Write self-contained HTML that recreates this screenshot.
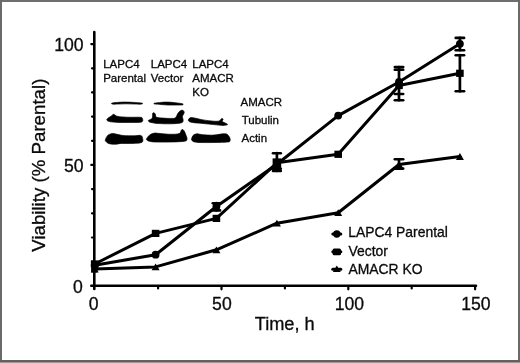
<!DOCTYPE html>
<html><head><meta charset="utf-8"><title>Viability</title>
<style>
html,body{margin:0;padding:0;background:#fff;}
body{width:520px;height:363px;overflow:hidden;}
svg{display:block;}
text{font-family:"Liberation Sans",Arial,Helvetica,sans-serif;fill:#0a0a0a;stroke:#0a0a0a;stroke-width:0.3px;}
</style></head><body>
<svg width="520" height="363" viewBox="0 0 520 363">
<rect x="0" y="0" width="520" height="363" fill="#fff"/>

<rect x="0" y="0" width="520" height="2" fill="#6e6e6e"/>
<rect x="0" y="0" width="2" height="363" fill="#6a6a6a"/>
<rect x="518" y="0" width="2" height="363" fill="#6a6a6a"/>
<rect x="0" y="360" width="520" height="2" fill="#626262"/>
<rect x="0" y="362" width="520" height="1" fill="#999"/>
<g stroke="#000" stroke-width="2.6" fill="none" stroke-linecap="round">
<line x1="94.3" y1="32" x2="94.3" y2="289"/>
<line x1="91.3" y1="285.7" x2="476" y2="285.7"/>
</g>
<g stroke="#000" stroke-width="2.2" fill="none" stroke-linecap="round">
<line x1="92" y1="261.6" x2="94" y2="261.6"/>
<line x1="92" y1="237.5" x2="94" y2="237.5"/>
<line x1="92" y1="213.3" x2="94" y2="213.3"/>
<line x1="92" y1="189.1" x2="94" y2="189.1"/>
<line x1="91.3" y1="164.9" x2="94" y2="164.9"/>
<line x1="92" y1="140.8" x2="94" y2="140.8"/>
<line x1="92" y1="116.6" x2="94" y2="116.6"/>
<line x1="92" y1="92.4" x2="94" y2="92.4"/>
<line x1="92" y1="68.3" x2="94" y2="68.3"/>
<line x1="91.3" y1="44.1" x2="94" y2="44.1"/>
<line x1="158.1" y1="286" x2="158.1" y2="288.5"/>
<line x1="221.5" y1="286" x2="221.5" y2="289.3"/>
<line x1="284.9" y1="286" x2="284.9" y2="288.5"/>
<line x1="348.3" y1="286" x2="348.3" y2="289.3"/>
<line x1="411.7" y1="286" x2="411.7" y2="288.5"/>
<line x1="475.1" y1="286" x2="475.1" y2="289.3"/>
</g>
<g font-size="17.6px">
<text x="83.6" y="51" text-anchor="end">100</text>
<text x="83.6" y="171.9" text-anchor="end">50</text>
<text x="82.8" y="292.6" text-anchor="end">0</text>
<text x="93.7" y="309.7" text-anchor="middle">0</text>
<text x="221.9" y="309.7" text-anchor="middle">50</text>
<text x="349.4" y="309.7" text-anchor="middle">100</text>
<text x="475.9" y="309.7" text-anchor="middle">150</text>
</g>
<text x="284.7" y="330.3" font-size="18.2px" text-anchor="middle">Time, h</text>
<text transform="translate(44.8,165.2) rotate(-90)" font-size="18.7px" text-anchor="middle">Viability (% Parental)</text>
<g font-size="11.5px">
<text x="103.2" y="67.9">LAPC4</text>
<text x="103.2" y="81.7">Parental</text>
<text x="150.8" y="67.9">LAPC4</text>
<text x="150.8" y="81.7">Vector</text>
<text x="192.3" y="67.9">LAPC4</text>
<text x="192.3" y="81.7">AMACR</text>
<text x="192.3" y="95.5">KO</text>
<text x="240.6" y="106.2">AMACR</text>
<text x="241.7" y="124.3">Tubulin</text>
<text x="241.5" y="142.1">Actin</text>
</g>
<defs><filter id="b" x="-10%" y="-30%" width="120%" height="160%"><feGaussianBlur stdDeviation="0.45"/></filter></defs>
<g fill="#000" stroke="#000" stroke-width="0.7" stroke-linejoin="round" filter="url(#b)">
<path d="M112.3,103.0 C113.4,102.7 116.7,102.5 119.0,102.3 C121.3,102.1 123.7,102.1 126.2,102.1 C128.7,102.1 131.4,102.2 134.0,102.4 C136.6,102.6 140.3,102.7 141.6,103.0 C142.9,103.3 142.9,103.9 141.6,104.1 C140.3,104.3 136.6,104.0 134.0,104.0 C131.4,104.0 128.7,103.8 126.2,103.8 C123.7,103.8 121.3,104.0 119.0,104.0 C116.7,104.0 113.4,104.3 112.3,104.1 C111.2,103.9 111.2,103.3 112.3,103.0 Z"/>
<path d="M106.9,119.3 C107.3,118.3 110.5,116.6 111.6,115.8 C112.7,115.0 112.7,114.2 113.6,114.3 C114.5,114.4 115.3,115.8 116.9,116.2 C118.5,116.7 120.8,116.8 123.1,117.0 C125.4,117.2 127.9,117.2 130.8,117.3 C133.7,117.3 138.5,117.1 140.4,117.3 C142.3,117.5 142.2,117.7 142.4,118.5 C142.6,119.3 143.5,121.3 141.6,122.0 C139.7,122.7 134.7,122.3 130.8,122.4 C127.0,122.5 122.1,122.6 118.5,122.4 C114.9,122.2 111.1,122.0 109.2,121.5 C107.3,121.0 106.5,120.2 106.9,119.3 Z"/>
<path d="M105.4,139.7 C105.7,138.7 106.6,136.4 107.7,135.4 C108.8,134.4 110.8,133.7 112.3,133.5 C113.8,133.3 115.1,134.0 116.9,134.3 C118.7,134.6 120.3,135.2 123.1,135.5 C125.9,135.8 131.0,135.8 133.9,135.8 C136.8,135.8 139.0,135.1 140.4,135.4 C141.8,135.7 142.2,136.2 142.4,137.4 C142.6,138.6 143.7,141.4 141.8,142.4 C139.9,143.4 134.2,143.2 130.8,143.4 C127.4,143.6 124.2,143.3 121.6,143.4 C119.0,143.5 117.5,144.1 115.4,144.2 C113.3,144.2 110.8,144.2 109.2,143.7 C107.6,143.2 106.5,142.1 105.9,141.4 C105.3,140.7 105.1,140.7 105.4,139.7 Z"/>
<path d="M154.6,103.2 C155.7,102.9 158.8,102.6 161.0,102.4 C163.2,102.2 165.4,102.0 167.7,102.1 C170.0,102.1 172.6,102.4 175.0,102.7 C177.4,103.0 181.2,103.4 182.4,103.8 C183.6,104.2 183.4,104.7 182.2,104.9 C181.0,105.1 177.4,105.0 175.0,105.0 C172.6,105.0 170.0,105.1 167.7,105.0 C165.4,104.9 163.2,104.7 161.0,104.5 C158.8,104.3 155.7,104.2 154.6,104.0 C153.5,103.8 153.5,103.5 154.6,103.2 Z"/>
<path d="M148.5,120.4 C149.1,119.9 151.6,119.2 152.3,118.1 C153.0,116.9 152.3,114.4 152.6,113.5 C152.9,112.6 153.4,112.6 153.9,112.7 C154.4,112.8 155.0,113.5 155.4,114.3 C155.8,115.1 155.3,116.7 156.6,117.3 C157.9,117.9 160.7,117.9 163.1,118.1 C165.5,118.3 168.8,118.5 170.8,118.4 C172.9,118.4 174.2,118.6 175.4,117.8 C176.6,117.0 177.0,114.7 177.8,113.5 C178.6,112.3 179.5,111.2 180.4,110.7 C181.3,110.2 182.5,110.1 183.1,110.4 C183.7,110.7 184.3,111.7 184.2,112.7 C184.1,113.7 182.6,115.4 182.4,116.6 C182.2,117.8 183.2,118.7 183.1,119.7 C183.0,120.7 183.6,122.0 181.6,122.7 C179.6,123.4 174.7,123.7 170.8,123.8 C167.0,123.9 161.8,123.7 158.5,123.5 C155.2,123.3 152.5,122.8 150.8,122.4 C149.1,122.0 148.9,121.5 148.5,121.2 C148.1,120.9 147.9,120.9 148.5,120.4 Z"/>
<path d="M146.5,138.9 C146.9,138.1 148.0,136.4 149.2,135.4 C150.4,134.4 152.1,133.5 153.9,133.2 C155.7,132.9 157.2,133.3 160.0,133.5 C162.8,133.7 167.6,134.3 170.8,134.3 C174.0,134.3 177.6,134.2 179.3,133.5 C181.1,132.8 180.7,130.7 181.3,130.1 C181.9,129.5 182.5,129.4 183.1,129.7 C183.7,130.0 184.2,131.0 184.7,132.0 C185.2,133.0 185.8,134.7 186.2,135.8 C186.6,137.0 187.2,138.0 187.0,138.9 C186.8,139.8 187.4,140.7 184.7,141.2 C182.0,141.7 175.7,141.9 170.8,142.0 C165.9,142.1 159.0,142.1 155.4,142.0 C151.8,141.9 150.6,141.5 149.2,141.2 C147.8,140.9 147.3,140.4 146.9,140.0 C146.5,139.6 146.1,139.7 146.5,138.9 Z"/>
<path d="M188.5,119.5 C188.8,118.8 189.7,117.8 190.8,117.6 C192.0,117.4 193.4,117.8 195.4,118.2 C197.4,118.6 200.0,119.4 203.1,119.9 C206.2,120.4 211.2,121.0 213.9,121.2 C216.6,121.4 218.0,121.3 219.3,120.9 C220.6,120.5 221.0,118.9 221.6,118.6 C222.2,118.3 223.0,118.8 223.1,119.3 C223.2,119.8 221.9,120.8 222.4,121.5 C222.9,122.2 225.3,123.0 226.2,123.5 C227.0,124.0 228.0,124.3 227.5,124.6 C227.0,124.9 225.4,125.4 223.1,125.4 C220.8,125.4 217.2,124.9 213.9,124.6 C210.6,124.3 206.4,123.8 203.1,123.5 C199.8,123.2 196.2,123.0 193.9,122.7 C191.6,122.4 190.1,122.0 189.2,121.5 C188.3,121.0 188.2,120.2 188.5,119.5 Z"/>
<path d="M191.6,138.9 C191.8,138.1 192.2,136.2 193.1,135.4 C194.0,134.6 195.3,133.9 197.0,133.8 C198.7,133.7 200.3,134.6 203.1,134.8 C205.9,135.0 210.6,135.3 213.9,135.1 C217.2,134.9 220.9,133.9 223.1,133.8 C225.3,133.7 225.9,133.7 227.0,134.3 C228.1,134.9 229.1,136.4 229.6,137.4 C230.1,138.4 230.4,139.7 230.1,140.5 C229.8,141.3 230.5,141.7 227.8,142.0 C225.1,142.3 218.5,142.4 213.9,142.5 C209.3,142.6 203.2,142.6 200.0,142.5 C196.8,142.4 195.9,142.3 194.6,142.0 C193.3,141.7 192.5,141.0 192.0,140.5 C191.5,140.0 191.4,139.8 191.6,138.9 Z"/>
</g>
<g stroke="#000" stroke-width="3" fill="none" stroke-linejoin="round" stroke-linecap="round">
<polyline points="94.7,265.3 155.6,254.7 216.4,206.5 276.9,164.2 338.2,115.6 399.0,82.0 459.9,43.8"/>
<polyline points="94.7,264.0 155.6,233.4 216.4,218.4 276.9,162.8 338.2,154.3 399.0,85.5 459.9,73.3"/>
<polyline points="94.7,269.0 155.6,266.9 216.4,249.8 276.9,223.2 338.2,212.7 399.0,164.5 459.9,156.5"/>
</g>
<g stroke="#000" fill="none" stroke-linecap="round">
<line x1="216.4" y1="203.2" x2="216.4" y2="210.4" stroke-width="2.7"/><line x1="212.8" y1="203.2" x2="220.0" y2="203.2" stroke-width="2.6"/><line x1="212.8" y1="210.4" x2="220.0" y2="210.4" stroke-width="2.6"/>
<line x1="276.9" y1="153.2" x2="276.9" y2="171.0" stroke-width="2.7"/><line x1="273.0" y1="153.2" x2="280.8" y2="153.2" stroke-width="2.6"/><line x1="273.0" y1="168.8" x2="280.8" y2="168.8" stroke-width="2.6"/><line x1="273.0" y1="171.0" x2="280.8" y2="171.0" stroke-width="2.6"/>
<rect x="272.6" y="158.4" width="8.6" height="13.4" fill="#000" stroke="none"/>
<line x1="399.0" y1="67.1" x2="399.0" y2="100.2" stroke-width="2.7"/><line x1="394.8" y1="67.1" x2="403.2" y2="67.1" stroke-width="2.6"/><line x1="394.8" y1="69.7" x2="403.2" y2="69.7" stroke-width="2.6"/><line x1="394.8" y1="94.0" x2="403.2" y2="94.0" stroke-width="2.6"/><line x1="394.8" y1="100.2" x2="403.2" y2="100.2" stroke-width="2.6"/>
<line x1="459.9" y1="37.9" x2="459.9" y2="50.2" stroke-width="2.7"/><line x1="455.7" y1="37.9" x2="464.1" y2="37.9" stroke-width="2.6"/><line x1="455.7" y1="50.2" x2="464.1" y2="50.2" stroke-width="2.6"/>
<line x1="459.9" y1="55.2" x2="459.9" y2="91.3" stroke-width="2.7"/><line x1="455.7" y1="55.2" x2="464.1" y2="55.2" stroke-width="2.6"/><line x1="455.7" y1="91.3" x2="464.1" y2="91.3" stroke-width="2.6"/>
<line x1="399.0" y1="159.3" x2="399.0" y2="168.6" stroke-width="2.7"/><line x1="394.8" y1="159.3" x2="403.2" y2="159.3" stroke-width="2.6"/><line x1="394.8" y1="168.6" x2="403.2" y2="168.6" stroke-width="2.6"/>
</g>
<rect x="91.1" y="261" width="6.4" height="11.4" rx="1" fill="#000"/>
<g fill="#000" stroke="none">
<circle cx="94.7" cy="265.3" r="3.9"/>
<circle cx="155.6" cy="254.7" r="3.9"/>
<circle cx="216.4" cy="206.5" r="3.9"/>
<circle cx="276.9" cy="164.2" r="3.9"/>
<circle cx="338.2" cy="115.6" r="3.9"/>
<circle cx="399.0" cy="82.0" r="3.9"/>
<circle cx="459.9" cy="43.8" r="3.9"/>
<rect x="90.9" y="260.4" width="7.6" height="7.2"/>
<rect x="151.8" y="229.8" width="7.6" height="7.2"/>
<rect x="212.6" y="214.8" width="7.6" height="7.2"/>
<rect x="273.1" y="159.2" width="7.6" height="7.2"/>
<rect x="334.4" y="150.7" width="7.6" height="7.2"/>
<rect x="395.2" y="81.9" width="7.6" height="7.2"/>
<rect x="456.1" y="69.7" width="7.6" height="7.2"/>
<path d="M94.7,265.6 L98.7,272.4 L90.7,272.4 Z"/>
<path d="M155.6,263.5 L159.6,270.3 L151.6,270.3 Z"/>
<path d="M216.4,246.4 L220.4,253.2 L212.4,253.2 Z"/>
<path d="M276.9,219.8 L280.9,226.6 L272.9,226.6 Z"/>
<path d="M338.2,209.3 L342.2,216.1 L334.2,216.1 Z"/>
<path d="M399.0,161.1 L403.0,167.9 L395.0,167.9 Z"/>
<path d="M459.9,153.1 L463.9,159.9 L455.9,159.9 Z"/>
</g>
<g stroke="#000" stroke-width="3" stroke-linecap="round">
<line x1="332.8" y1="234" x2="340.8" y2="234"/>
<line x1="332.8" y1="251.8" x2="340.8" y2="251.8"/>
<line x1="332.8" y1="269.2" x2="340.8" y2="269.2"/>
</g>
<g fill="#000">
<circle cx="336.8" cy="234" r="3.7"/>
<rect x="332.6" y="248.4" width="8.4" height="6.8" rx="1.5"/>
<path d="M336.8,265.6 L340.8,271.9 L332.8,271.9 Z"/>
</g>
<g font-size="13.9px">
<text x="348.2" y="237.4">LAPC4 Parental</text>
<text x="348.6" y="256.3">Vector</text>
<text x="348.4" y="273.7">AMACR KO</text>
</g>
</svg></body></html>
